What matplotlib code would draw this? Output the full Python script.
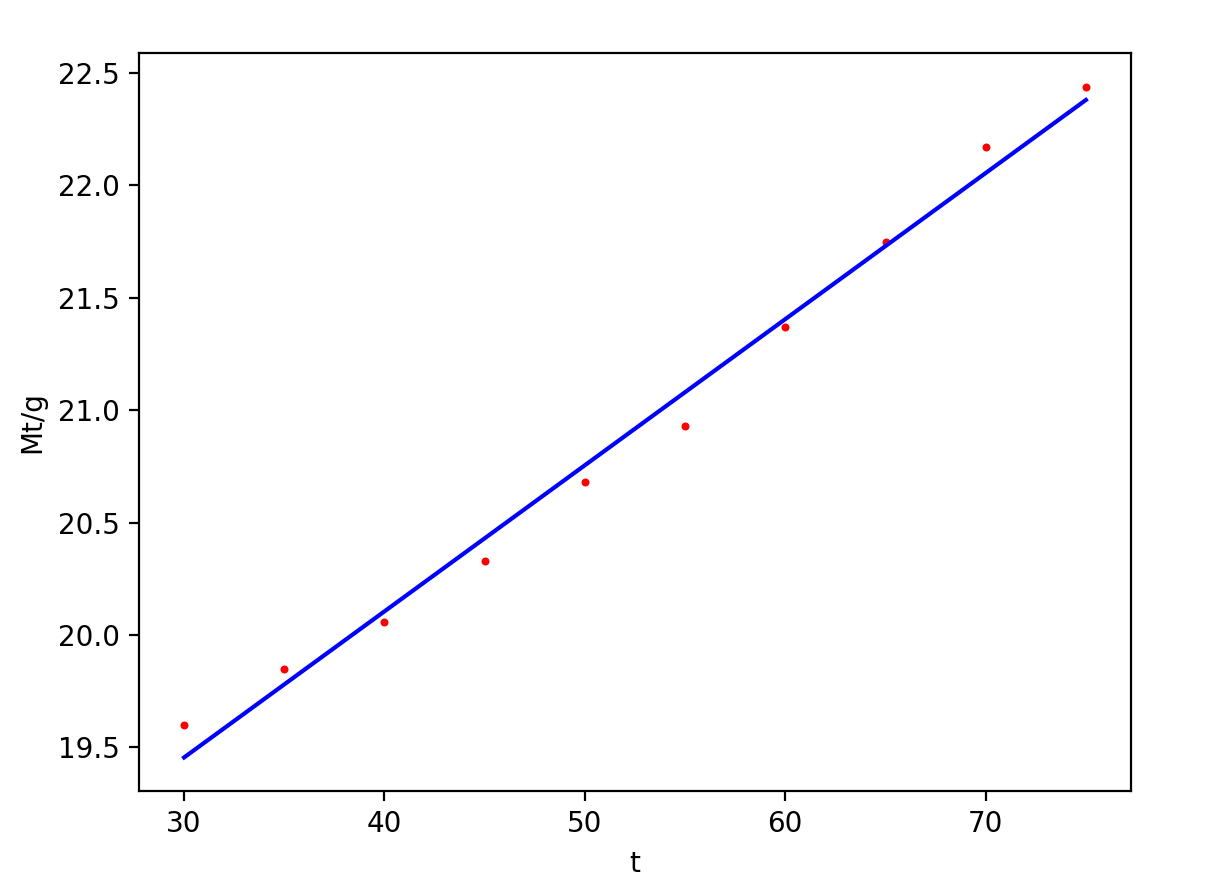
import matplotlib
matplotlib.use("Agg")
import matplotlib.pyplot as plt
import numpy as np

# measured data
t = [30, 35, 40, 45, 50, 55, 60, 65, 70, 75]
Mt = [19.60, 19.85, 20.06, 20.33, 20.68, 20.93, 21.37, 21.75, 22.17, 22.44]

# least squares fit line
k, b = np.polyfit(t, Mt, 1)
t_fit = np.array([t[0], t[-1]])
Mt_fit = k * t_fit + b

fig = plt.figure(figsize=(1213 / 200, 891 / 200), dpi=200)
ax = fig.add_axes([139 / 1213, 100 / 891, 992 / 1213, 738 / 891])

ax.scatter(t, Mt, s=3.5, color='red')
ax.plot(t_fit, Mt_fit, color='blue')

ax.set_xlabel('t')
ax.set_ylabel('Mt/g')

fig.savefig('out.png', dpi=200)
